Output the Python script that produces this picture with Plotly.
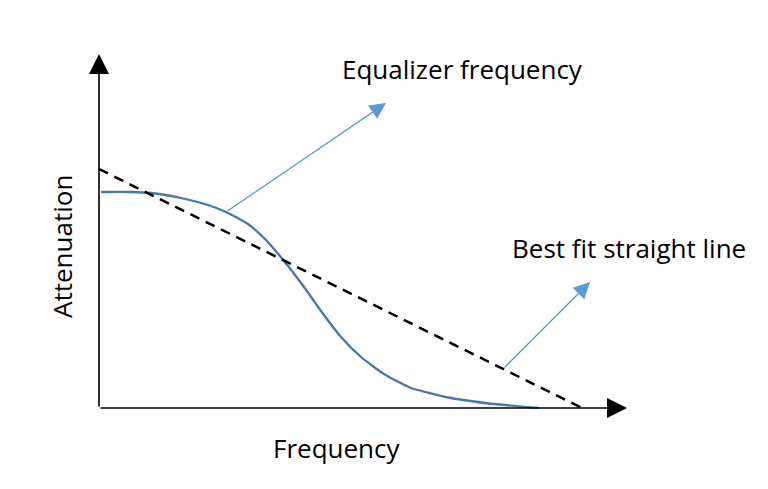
import plotly.graph_objects as go

# coordinates: x = frequency (0 at y-axis), y = attenuation (0 at x-axis)
freq = [2, 32, 52, 82, 109, 127, 149, 165, 185, 205, 222, 242, 262, 285, 312, 352, 395, 440]
atten = [216, 216, 215, 210, 203, 196, 184, 170, 147, 121, 97, 71, 51, 34, 20, 10, 4, 0]

fit_x = [0, 483]
fit_y = [239, 0]

fig = go.Figure()
fig.add_trace(go.Scatter(x=freq, y=atten, mode="lines",
                         line=dict(color="#4876A8", width=2.3, shape="spline", smoothing=0.5),
                         hoverinfo="skip"))
fig.add_trace(go.Scatter(x=fit_x, y=fit_y, mode="lines", line=dict(color="black", width=2.5, dash="10px,7px"),
                         hoverinfo="skip"))

font = dict(family="Open Sans, sans-serif", size=26, color="black")

# axes with arrowheads
fig.add_annotation(x=0, y=354, ax=0, ay=0, axref="x", ayref="y", xref="x", yref="y", text="",
                   showarrow=True, arrowhead=2, arrowsize=2.5, arrowwidth=1.6, arrowcolor="black")
fig.add_annotation(x=528, y=0, ax=0, ay=0, axref="x", ayref="y", xref="x", yref="y", text="",
                   showarrow=True, arrowhead=2, arrowsize=2.5, arrowwidth=1.6, arrowcolor="black")

# callout arrows
fig.add_annotation(x=287, y=305, ax=127, ay=196, axref="x", ayref="y", xref="x", yref="y", text="",
                   showarrow=True, arrowhead=2, arrowsize=2.5, arrowwidth=1.3, arrowcolor="#5B9BD5")
fig.add_annotation(x=491, y=126, ax=404, ay=39, axref="x", ayref="y", xref="x", yref="y", text="",
                   showarrow=True, arrowhead=2, arrowsize=2.5, arrowwidth=1.3, arrowcolor="#5B9BD5")

fig.add_annotation(x=363, y=339, text="Equalizer frequency", showarrow=False, font=font)
fig.add_annotation(x=530, y=160, text="Best fit straight line", showarrow=False, font=font)
fig.add_annotation(x=237, y=-40, text="Frequency", showarrow=False, font=font)
fig.add_annotation(x=-37, y=161, text="Attenuation", textangle=-90, showarrow=False, font=font)

fig.update_xaxes(range=[-91, 677], visible=False)
fig.update_yaxes(range=[-89, 400], visible=False)
fig.update_layout(width=768, height=489, margin=dict(l=0, r=0, t=0, b=0),
                  paper_bgcolor="white", plot_bgcolor="white", showlegend=False)

fig.write_html("out.html")
